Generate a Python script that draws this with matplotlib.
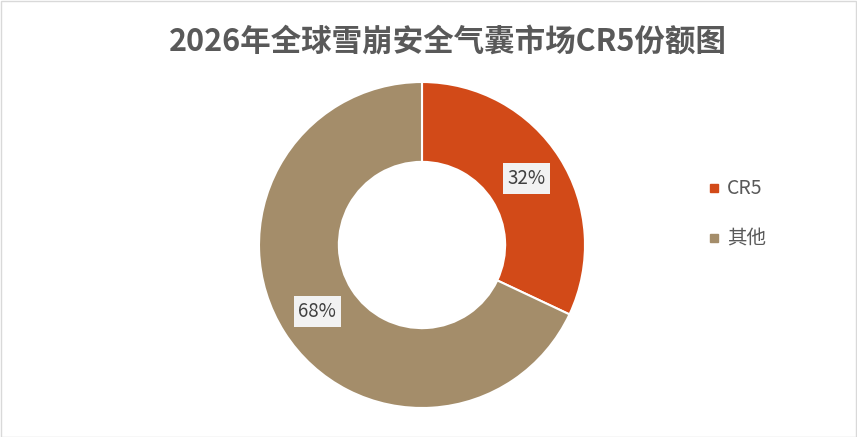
import matplotlib
matplotlib.use("Agg")
import matplotlib.pyplot as plt
from matplotlib.patches import Rectangle
from matplotlib.lines import Line2D

plt.rcParams['font.family'] = ['Noto Sans CJK SC', 'DejaVu Sans']

title = "2026年全球雪崩安全气囊市场CR5份额图"
labels = ["CR5", "其他"]
values = [32, 68]
colors = ["#D24A18", "#A48D6A"]

W, H = 857, 437
fig = plt.figure(figsize=(W / 100, H / 100), dpi=100)
fig.patch.set_facecolor("white")

cx, cy, R = 422, 245, 163
ax = fig.add_axes([(cx - R) / W, (H - cy - R) / H, 2 * R / W, 2 * R / H])
wedges, texts, autotexts = ax.pie(
    values, colors=colors, startangle=90, counterclock=False, radius=1.0,
    wedgeprops=dict(width=0.49, edgecolor="white", linewidth=1.5),
    autopct=lambda p: f"{p:.0f}%", pctdistance=0.76,
    textprops=dict(fontsize=13.5, color="#404040"))
for t in autotexts:
    t.set_bbox(dict(facecolor="#F2F2F2", edgecolor="none", boxstyle="square,pad=0.25"))
ax.set_xlim(-1, 1)
ax.set_ylim(-1, 1)
ax.set_aspect("equal")
ax.axis("off")

fig.text(448 / W, 1 - 42 / H, title, ha="center", va="center",
         fontsize=22, fontweight="bold", color="#595959")

handles = [Line2D([0], [0], marker="s", linestyle="none", markersize=6,
                  markerfacecolor=c, markeredgecolor=c) for c in colors]
leg = fig.legend(handles, labels, loc="center left",
                 bbox_to_anchor=(687 / W, 1 - 214 / H), frameon=False,
                 fontsize=14, labelcolor="#595959", handletextpad=0.15,
                 labelspacing=1.5, handlelength=1.0)

fig.patches.append(Rectangle((0.5 / W, 0.5 / H), 1 - 1.5 / W, 1 - 1.5 / H,
                             transform=fig.transFigure, fill=False,
                             edgecolor="#D9D9D9", linewidth=1))

fig.savefig("out.png", dpi=100)
